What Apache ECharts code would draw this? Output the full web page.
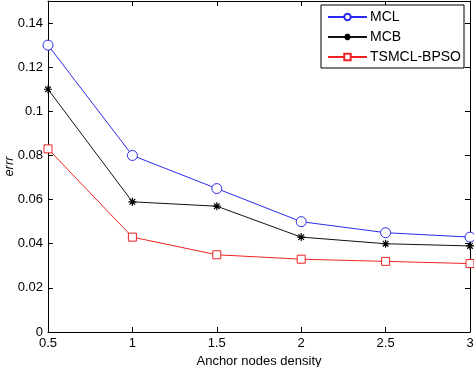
<!DOCTYPE html>
<html><head><meta charset="utf-8">
<script src="https://cdn.jsdelivr.net/npm/echarts@6/dist/echarts.min.js"></script>
<style>html,body{margin:0;padding:0;background:#fff}#c{width:474px;height:367px}</style>
</head><body><div id="c"></div>
<script>
const xValues = [0.5, 1, 1.5, 2, 2.5, 3];
const mcl = [0.13, 0.08, 0.065, 0.05, 0.045, 0.043];
const mcb = [0.11, 0.059, 0.057, 0.043, 0.04, 0.039];
const tsmcl = [0.083, 0.043, 0.035, 0.033, 0.032, 0.031];
const seriesNames = ['MCL', 'MCB', 'TSMCL-BPSO'];

const star = 'path://M5,0L5,10M0,5L10,5M1.5,1.5L8.5,8.5M8.5,1.5L1.5,8.5';
const font = 'Liberation Sans';
const pairs = a => a.map((v, i) => [xValues[i], v]);

const chart = echarts.init(document.getElementById('c'));
const axisCommon = {
  axisLine: {show: true, onZero: false, lineStyle: {color: '#000', width: 1}},
  axisTick: {show: true, inside: true, length: 5, lineStyle: {color: '#000'}},
  splitLine: {show: false}
};
chart.setOption({
  animation: false,
  textStyle: {fontFamily: font},
  grid: {left: 48, right: 4, top: 1, bottom: 35, containLabel: false, outerBoundsMode: 'none'},
  legend: {
    data: seriesNames,
    orient: 'vertical', right: 10, top: 5,
    backgroundColor: '#fff', borderColor: '#000', borderWidth: 1,
    padding: [5, 3, 4, 6], itemGap: 6, itemWidth: 39, itemHeight: 8,
    textStyle: {fontFamily: font, fontSize: 14, color: '#000', padding: [0, 0, 0, -2]}
  },
  xAxis: [
    Object.assign({type: 'value', min: 0.5, max: 3, interval: 0.5,
      name: 'Anchor nodes density', nameLocation: 'middle', nameGap: 23, nameMoveOverlap: false,
      nameTextStyle: {fontFamily: font, fontSize: 13, color: '#000'},
      axisLabel: {color: '#000', fontSize: 13, fontFamily: font, margin: 5,
        formatter: v => String(v)}}, axisCommon),
    Object.assign({type: 'value', position: 'top', min: 0.5, max: 3, interval: 0.5,
      axisLabel: {show: false}}, axisCommon)
  ],
  yAxis: [
    Object.assign({type: 'value', min: 0, max: 0.15, interval: 0.02,
      name: 'errr', nameLocation: 'middle', nameGap: 32, nameMoveOverlap: false,
      nameTextStyle: {fontFamily: font, fontSize: 13, fontStyle: 'italic', color: '#000'},
      axisLabel: {color: '#000', fontSize: 13, fontFamily: font, margin: 5, showMaxLabel: false,
        formatter: v => String(+v.toFixed(2))}}, axisCommon),
    Object.assign({type: 'value', position: 'right', min: 0, max: 0.15, interval: 0.02,
      axisLabel: {show: false}}, axisCommon)
  ],
  series: [
    {name: seriesNames[0], type: 'line', data: pairs(mcl), symbol: 'circle', symbolSize: 10,
      lineStyle: {color: '#2a2aee', width: 1}, itemStyle: {color: '#fff', borderColor: '#2a2aee', borderWidth: 1}},
    {name: seriesNames[1], type: 'line', data: pairs(mcb), symbol: star, symbolSize: 8,
      lineStyle: {color: '#111', width: 1}, itemStyle: {color: 'none', borderColor: '#000', borderWidth: 1.2}},
    {name: seriesNames[2], type: 'line', data: pairs(tsmcl), symbol: 'rect', symbolSize: 8,
      lineStyle: {color: '#ee2222', width: 1}, itemStyle: {color: '#fff', borderColor: '#ee2222', borderWidth: 1}}
  ]
});
</script></body></html>
